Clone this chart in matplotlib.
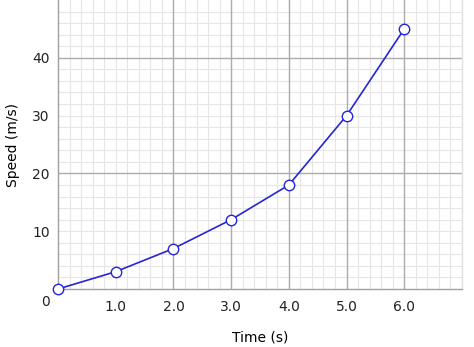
import matplotlib
matplotlib.use("Agg")
import matplotlib.pyplot as plt
import numpy as np

# speed readings
time_s = [0, 1, 2, 3, 4, 5, 6]
speed = [0, 3, 7, 12, 18, 30, 45]
x_ticks = [1, 2, 3, 4, 5, 6]
x_labels = ["1.0", "2.0", "3.0", "4.0", "5.0", "6.0"]
y_ticks = [10, 20, 30, 40]

fig = plt.figure(figsize=(4.74, 3.47), dpi=100)
ax = fig.add_axes([0.1224, 0.1671, 0.8523, 0.8329])

ax.set_xlim(0, 7)
ax.set_ylim(0, 50)

# graph-paper style grid
minor_x = np.arange(0.2, 7, 0.2)
minor_y = np.arange(2, 50, 2)
for xv in minor_x:
    ax.axvline(xv, color="#e6e6e6", lw=0.8, zorder=0)
for yv in minor_y:
    ax.axhline(yv, color="#e6e6e6", lw=0.8, zorder=0)
for xv in [2, 3, 4, 5, 6]:
    ax.axvline(xv, color="#adadad", lw=1.0, zorder=0)
for yv in [20, 40]:
    ax.axhline(yv, color="#adadad", lw=1.0, zorder=0)

ax.plot(time_s, speed, color="#2525d5", lw=1.2, marker="o", ms=7.5,
        mfc="white", mec="#2525d5", mew=1.0, zorder=3, clip_on=False)

ax.set_xticks(x_ticks)
ax.set_xticklabels(x_labels)
ax.set_yticks(y_ticks)
ax.tick_params(length=0, labelsize=10, colors="#222222")
ax.tick_params(axis="x", pad=8)
ax.tick_params(axis="y", pad=6)
ax.annotate("0", (0, 0), xytext=(-9, -9.5), textcoords="offset points",
            ha="center", va="center", fontsize=10, color="#222222")

ax.spines["top"].set_visible(False)
for side in ["left", "bottom", "right"]:
    ax.spines[side].set_color("#a0a0a0")
    ax.spines[side].set_linewidth(1.0)
ax.spines["right"].set_color("#e0e0e0")

ax.set_xlabel("Time (s)", fontsize=10, labelpad=12)
ax.set_ylabel("Speed (m/s)", fontsize=10, labelpad=9)

fig.savefig("out.png", dpi=100)
